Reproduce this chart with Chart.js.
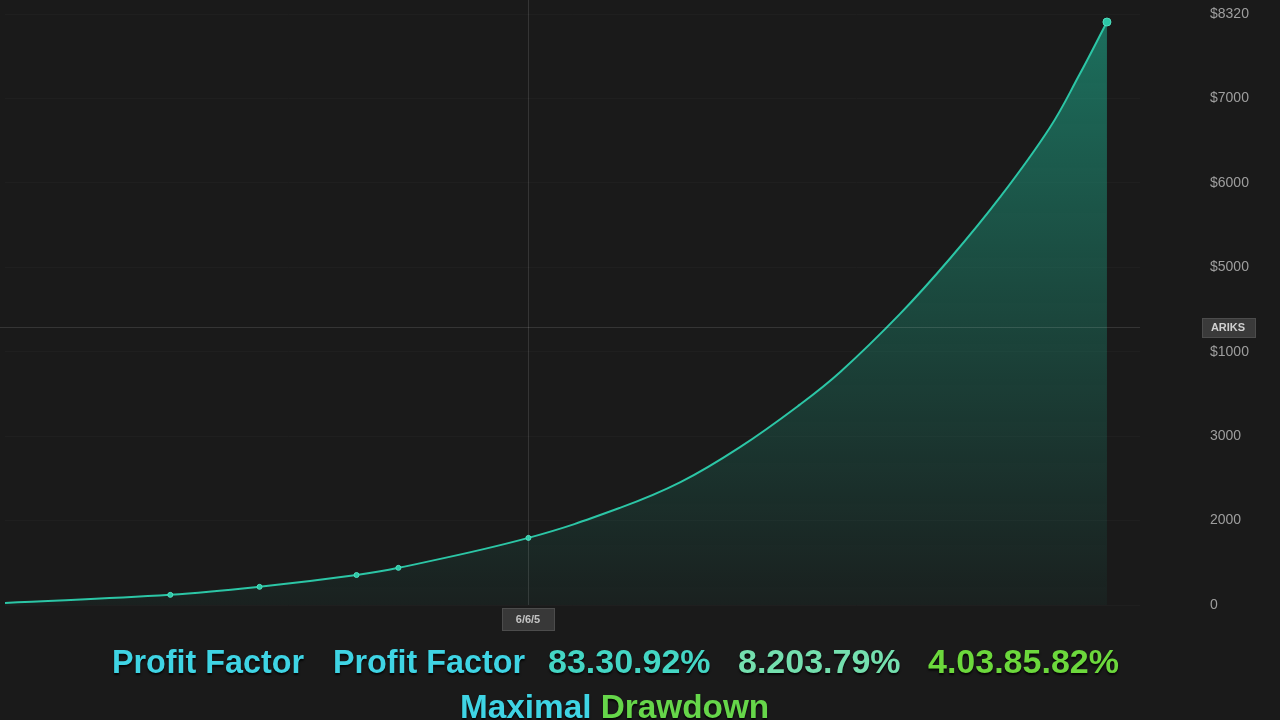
<!DOCTYPE html>
<html>
<head>
<meta charset="utf-8">
<script src="https://cdn.jsdelivr.net/npm/chart.js@4.4.1/dist/chart.umd.min.js"></script>
<style>
    html, body { margin: 0; padding: 0; background: #1a1a1a; }
    #wrap { position: relative; width: 1280px; height: 720px; overflow: hidden; }
    #equityChart { position: absolute; left: 0; top: 0; }
    .stat {
        position: absolute;
        display: inline-block;
        font-family: "Liberation Sans", Arial, sans-serif;
        font-weight: bold;
        font-size: 34px;
        line-height: 1;
        white-space: nowrap;
        transform-origin: left top;
        text-shadow: 0 2px 2px rgba(0, 0, 0, 0.8);
    }
</style>
</head>
<body>
<div id="wrap">
    <canvas id="equityChart" width="1280" height="720"></canvas>
    <span class="stat" style="left:112px; top:644px; color:#3fd4e4; transform:scaleX(0.95);">Profit Factor</span>
    <span class="stat" style="left:333px; top:644px; color:#3fd4e4; transform:scaleX(0.95);">Profit Factor</span>
    <span class="stat" style="left:548px; top:644px; color:#44d6c4;">83.30.92%</span>
    <span class="stat" style="left:738px; top:644px; color:#74dfae;">8.203.79%</span>
    <span class="stat" style="left:928px; top:644px; color:#6cd83c;">4.03.85.82%</span>
    <span class="stat" style="left:460px; top:689px; transform:scaleX(0.98);"><span style="color:#3fd4e4;">Maximal</span> <span style="color:#66d64a;">Drawdown</span></span>
</div>
<script>
// --- Data ---
const tradeIdx = [0, 15.0, 23.1, 31.9, 35.7, 47.5, 55.8, 61.3, 66.7, 72.1, 75.8, 81.2, 85.8, 90.3, 94.8, 97.5, 100];
const equity   = [25, 120, 215, 355, 440, 795, 1150, 1455, 1870, 2370, 2760, 3445, 4110, 4830, 5650, 6280, 6905];
const markedIdx = [1, 2, 3, 4, 5, 16]; // points drawn with a dot

const yTickValues = [0, 1000, 2000, 3000, 4000, 5000, 6000, 7000];
const yTickLabels = ["0", "2000", "3000", "$1000", "$5000", "$6000", "$7000", "$8320"];

// crosshair position + its two tag labels
const crossX = 47.5;
const crossY = 3290;
const crossXLabel = "6/6/5";
const crossYLabel = "ARIKS";

const lineColor = '#2cc6a6';

// Crosshair plugin (draws the cursor lines and tags)
const crosshairPlugin = {
    id: 'crosshair',
    afterDatasetsDraw(chart) {
        const { ctx, chartArea, scales } = chart;
        const px = Math.round(scales.x.getPixelForValue(crossX));
        const py = Math.round(scales.y.getPixelForValue(crossY));
        ctx.save();
        ctx.strokeStyle = 'rgba(255, 255, 255, 0.12)';
        ctx.lineWidth = 1;
        ctx.beginPath();
        ctx.moveTo(px + 0.5, 0);
        ctx.lineTo(px + 0.5, chartArea.bottom);
        ctx.moveTo(0, py + 0.5);
        ctx.lineTo(chartArea.right, py + 0.5);
        ctx.stroke();

        ctx.font = 'bold 11px "Liberation Sans", sans-serif';
        ctx.textAlign = 'center';
        ctx.textBaseline = 'middle';

        // bottom tag
        ctx.fillStyle = '#383838';
        ctx.strokeStyle = '#4c4c4c';
        ctx.fillRect(px - 26, chartArea.bottom + 3, 52, 22);
        ctx.strokeRect(px - 26 + 0.5, chartArea.bottom + 3.5, 52, 22);
        ctx.fillStyle = '#c4c4c4';
        ctx.fillText(crossXLabel, px, chartArea.bottom + 14.5);

        // right tag
        ctx.fillStyle = '#3a3a3a';
        ctx.fillRect(1202, py - 9, 53, 19);
        ctx.strokeRect(1202.5, py - 8.5, 53, 19);
        ctx.fillStyle = '#d0d0d0';
        ctx.fillText(crossYLabel, 1228, py + 1);
        ctx.restore();
    }
};

const ctx = document.getElementById('equityChart').getContext('2d');
new Chart(ctx, {
    type: 'line',
    data: {
        datasets: [{
            data: tradeIdx.map((x, i) => ({ x: x, y: equity[i] })),
            borderColor: lineColor,
            borderWidth: 2,
            pointBackgroundColor: lineColor,
            pointBorderColor: '#4fe0c0',
            pointBorderWidth: 1,
            pointRadius: c => markedIdx.includes(c.dataIndex) ? (c.dataIndex === tradeIdx.length - 1 ? 4 : 2.5) : 0,
            tension: 0.4,
            fill: 'origin',
            backgroundColor: c => {
                const area = c.chart.chartArea;
                if (!area) return 'rgba(30, 150, 125, 0.3)';
                const g = c.chart.ctx.createLinearGradient(0, area.top, 0, area.bottom);
                g.addColorStop(0, 'rgba(30, 170, 140, 0.6)');
                g.addColorStop(0.5, 'rgba(30, 160, 130, 0.34)');
                g.addColorStop(1, 'rgba(30, 150, 125, 0.06)');
                return g;
            }
        }]
    },
    options: {
        responsive: false,
        animation: false,
        layout: { padding: { top: 14, bottom: 115, left: 0, right: 0 } },
        plugins: {
            legend: { display: false },
            tooltip: { enabled: false }
        },
        scales: {
            x: {
                type: 'linear',
                min: 0,
                max: 103,
                display: false
            },
            y: {
                position: 'right',
                min: 0,
                max: 7000,
                afterBuildTicks: axis => {
                    axis.ticks = yTickValues.map(v => ({ value: v }));
                },
                afterFit: axis => { axis.width = 140; },
                border: { display: false },
                grid: {
                    color: 'rgba(255, 255, 255, 0.025)',
                    tickLength: 68,
                    tickColor: 'rgba(0, 0, 0, 0)'
                },
                ticks: {
                    padding: 2,
                    color: '#9e9e9e',
                    font: { family: '"Liberation Sans", sans-serif', size: 14 },
                    callback: (v) => yTickLabels[yTickValues.indexOf(v)]
                }
            }
        }
    },
    plugins: [crosshairPlugin]
});
</script>
</body>
</html>
